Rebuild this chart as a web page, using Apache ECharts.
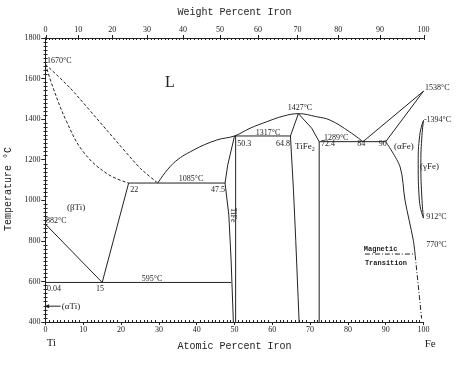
<!DOCTYPE html>
<html><head><meta charset="utf-8">
<script src="https://cdn.jsdelivr.net/npm/echarts@6/dist/echarts.min.js"></script>
<style>html,body{margin:0;padding:0;background:#fff}#c{width:474px;height:372px}</style>
</head><body><div id="c"></div>
<script>
// ---- axis ticks ----
const atTicks = [0,10,20,30,40,50,60,70,80,90,100];
const tempTicks = [400,600,800,1000,1200,1400,1600,1800];
const wtMajor = [0,10,20,30,40,50,60,70,80,90,100];

// ---- phase boundaries (x = atomic % Fe, y = temperature °C) ----
const liquidusTi   = [[0,1670],[6.6,1552],[16.2,1346],[25.0,1159],[29.7,1085]];
const solidusTi    = [[0,1670],[2.06,1552],[5.6,1387],[10.0,1239],[16.2,1132],[22,1085]];
const liquidusDome = [[29.7,1085],[33.8,1182],[39.1,1247],[45.3,1297],[50,1317],[54.1,1355],[58.5,1387],[62.9,1415],[66.9,1427],[71.7,1412],[75.3,1395],[80.4,1338],[84,1289]];
const liquidusFe   = [[84,1289],[100,1538]];
const solidusFe    = [[90,1289],[100,1538]];
const eutectic1085 = [[22,1085],[47.5,1085]];
const betaSolvus   = [[22,1085],[15,595]];
const betaTransus  = [[0,882],[15,595]];
const eutectoid595 = [[0,595],[49.1,595]];
const tifeLeft     = [[50,1317],[48.2,1173],[47.5,1085],[48.5,927],[49.1,705],[49.7,400]];
const tifeRight    = [[50.3,1317],[50.3,400]];
const peritectic1317 = [[50,1317],[64.8,1317]];
const tife2Left    = [[66.9,1427],[64.8,1317],[65.6,1050],[66.2,803],[67.1,400]];
const tife2Right   = [[66.9,1427],[70.4,1356],[72.4,1289],[72.4,400]];
const eutectic1289 = [[72.4,1289],[90,1289]];
const alphaFeSolvus = [[90,1289],[93.8,1165],[95.1,1001],[97.3,803],[97.8,729]];
const alphaFeSolvusLow = [[97.8,729],[99.5,417]];
const magneticLine = [[84.5,735],[97.8,735]];
const gammaOuter   = [[100,1394],[99.0,1320],[98.6,1183],[98.9,1001],[100,912]];
const gammaInner   = [[100,1394],[99.6,1320],[99.3,1183],[99.6,1001],[100,912]];
const alphaTiArrow = [[0.3,478],[4.0,478]];

// ---- text annotations (anchored in data coordinates) ----
const notes = [
  ['1670°C', 0.4, 1687, 'left', 'num'],
  ['L', 32.9, 1578, 'center', 'big'],
  ['1427°C', 67.3, 1455, 'center', 'num'],
  ['1317°C', 58.9, 1331, 'center', 'num'],
  ['1289°C', 76.9, 1307, 'center', 'num'],
  ['1085°C', 38.5, 1104, 'center', 'num'],
  ['595°C', 28.2, 614, 'center', 'num'],
  ['882°C', 0.13, 897, 'left', 'num'],
  ['0.04', 0.4, 562, 'left', 'num'],
  ['15', 14.4, 562, 'center', 'num'],
  ['22', 22.4, 1050, 'left', 'num'],
  ['47.5', 47.5, 1050, 'right', 'num'],
  ['50.3', 50.7, 1277, 'left', 'num'],
  ['64.8', 64.7, 1277, 'right', 'num'],
  ['72.4', 72.9, 1277, 'left', 'num'],
  ['84', 83.5, 1277, 'center', 'num'],
  ['90', 89.2, 1277, 'center', 'num'],
  ['{a|TiFe}{s|2}', 66.0, 1265, 'left', 'phase'],
  ['(αFe)', 92.2, 1262, 'left', 'phase'],
  ['(γFe)', 99.1, 1164, 'left', 'phase'],
  ['(βTi)', 5.7, 966, 'left', 'phase'],
  ['(αTi)', 4.3, 478, 'left', 'phase'],
  ['TiFe', 49.6, 927, 'center', 'rot'],
  ['Magnetic', 84.2, 759, 'left', 'small'],
  ['Transition', 84.5, 691, 'left', 'small'],
  ['1538°C', 100.4, 1553, 'left', 'num'],
  ['-1394°C', 100.1, 1395, 'left', 'num'],
  ['912°C', 100.7, 917, 'left', 'num'],
  ['770°C', 100.7, 779, 'left', 'num'],
  ['Ti', 0.3, 295, 'left', 'elem'],
  ['Fe', 100.3, 290, 'left', 'elem']
];

function wtToAt(w){ const fe = w/55.845, ti = (100-w)/47.867; return fe/(fe+ti)*100; }
const wtMinor = []; for (let w = 0; w <= 100; w++) wtMinor.push(w);

const INK = '#222';
const fonts = {
  num:   '8px "Liberation Serif"',
  big:   '16px "Liberation Serif"',
  phase: '9px "Liberation Serif"',
  rot:   '8px "Liberation Serif"',
  small: 'bold 7px "Liberation Mono"',
  elem:  '11px "Liberation Serif"'
};

function seg(data, opt) {
  opt = opt || {};
  return {
    type: 'line', data: data, showSymbol: false, symbol: 'none', silent: true,
    smooth: opt.smooth || false, clip: false, animation: false,
    lineStyle: { color: INK, width: 1, type: opt.dash || 'solid' }
  };
}

const series = [
  seg(liquidusTi, {dash: [3,2], smooth: 0.2}),
  seg(solidusTi, {dash: [3,2], smooth: 0.4}),
  seg(liquidusDome, {smooth: 0.4}),
  seg(liquidusFe), seg(solidusFe),
  seg(eutectic1085), seg(betaSolvus), seg(betaTransus), seg(eutectoid595),
  seg(tifeLeft), seg(tifeRight), seg(peritectic1317),
  seg(tife2Left), seg(tife2Right), seg(eutectic1289),
  seg(alphaFeSolvus, {smooth: 0.3}),
  seg(alphaFeSolvusLow, {dash: [5,2,1,2]}),
  seg(magneticLine, {dash: [5,2,1,2]}),
  seg(gammaOuter, {smooth: 0.5}), seg(gammaInner, {smooth: 0.5}),
  {
    type: 'line', data: alphaTiArrow, silent: true, clip: false, animation: false,
    showSymbol: true, showAllSymbol: true,
    symbol: function (v, p) { return p.dataIndex === 0 ? 'triangle' : 'none'; },
    symbolRotate: 90, symbolSize: [4, 5], symbolOffset: [0, 0],
    itemStyle: {color: INK}, lineStyle: {color: INK, width: 1}
  },
  {
    type: 'custom', data: [0], silent: true, clip: false, animation: false, z: 5,
    renderItem: function (params, api) {
      const ch = [];
      wtMinor.forEach(function (w) {
        const p = api.coord([wtToAt(w), 1800]);
        const x = Math.round(p[0]) + 0.5;
        ch.push({type: 'line', shape: {x1: x, y1: p[1], x2: x, y2: p[1] + 2}, style: {stroke: INK, lineWidth: 1}});
      });
      wtMajor.forEach(function (w) {
        const p = api.coord([wtToAt(w), 1800]);
        const x = Math.round(p[0]) + 0.5;
        ch.push({type: 'line', shape: {x1: x, y1: p[1] - 3, x2: x, y2: p[1]}, style: {stroke: INK, lineWidth: 1}});
        ch.push({type: 'text', x: p[0], y: p[1] - 8, style: {text: String(w), align: 'center', verticalAlign: 'middle', font: fonts.num, fill: INK}});
      });
      return {type: 'group', children: ch};
    }
  },
  {
    type: 'custom', data: notes.map(function (n, i) { return i; }), silent: true, clip: false, animation: false, z: 6,
    renderItem: function (params, api) {
      const n = notes[params.dataIndex];
      const p = api.coord([n[1], n[2]]);
      const st = {text: n[0], align: n[3], verticalAlign: 'middle', font: fonts[n[4]], fill: INK};
      if (n[0].indexOf('{a|') === 0) {
        st.rich = {a: {font: fonts.phase, fill: INK}, s: {font: '6px "Liberation Serif"', fill: INK, padding: [5, 0, 0, 0]}};
      }
      const el = {type: 'text', x: p[0], y: p[1], style: st};
      if (n[4] === 'rot') el.rotation = -Math.PI / 2;
      return el;
    }
  }
];

const axisLine = {show: true, lineStyle: {color: INK, width: 1}};
const plain = function (v) { return String(v); };
const chart = echarts.init(document.getElementById('c'), null, {renderer: 'canvas'});
chart.setOption({
  animation: false,
  backgroundColor: '#fff',
  grid: {left: 45.5, top: 38, width: 378, height: 284, containLabel: false, outerBoundsMode: 'none'},
  xAxis: [
    {type: 'value', position: 'bottom', min: atTicks[0], max: atTicks[atTicks.length-1], interval: 10,
     axisLine: axisLine, splitLine: {show: false},
     axisTick: {show: true, length: 3, lineStyle: {color: INK}},
     axisLabel: {fontSize: 8, fontFamily: 'Liberation Serif', color: INK, margin: 4, formatter: plain},
     name: 'Atomic Percent Iron', nameLocation: 'middle', nameGap: 19,
     nameTextStyle: {fontFamily: 'Liberation Mono', fontSize: 10, color: INK}},
    {type: 'value', position: 'bottom', min: 0, max: 100, interval: 10,
     axisLine: {show: false}, splitLine: {show: false}, axisLabel: {show: false},
     axisTick: {show: false, inside: true},
     minorTick: {show: true, splitNumber: 10, length: 2, lineStyle: {color: INK}}},
    {type: 'value', position: 'top', min: 0, max: 100,
     axisLine: axisLine, splitLine: {show: false}, axisLabel: {show: false}, axisTick: {show: false},
     name: 'Weight Percent Iron', nameLocation: 'middle', nameGap: 21,
     nameTextStyle: {fontFamily: 'Liberation Mono', fontSize: 10, color: INK}}
  ],
  yAxis: [
    {type: 'value', position: 'left', min: tempTicks[0], max: tempTicks[tempTicks.length-1], interval: 200,
     axisLine: axisLine, splitLine: {show: false},
     axisTick: {show: true, length: 4, lineStyle: {color: INK}},
     axisLabel: {fontSize: 8, fontFamily: 'Liberation Serif', color: INK, margin: 5, formatter: plain},
     name: 'Temperature °C', nameLocation: 'middle', nameGap: 31,
     nameTextStyle: {fontFamily: 'Liberation Mono', fontSize: 10, color: INK, padding: [0, 18, 0, 0]}},
    {type: 'value', position: 'left', min: 400, max: 1800, interval: 200,
     axisLine: {show: false}, splitLine: {show: false}, axisLabel: {show: false},
     axisTick: {show: false, inside: true},
     minorTick: {show: true, splitNumber: 10, length: 2, lineStyle: {color: INK}}},
    {type: 'value', position: 'right', min: 400, max: 1800, interval: 200,
     axisLine: axisLine, splitLine: {show: false}, axisLabel: {show: false},
     axisTick: {show: true, inside: true, length: 4, lineStyle: {color: INK}},
     minorTick: {show: true, splitNumber: 10, length: 2, lineStyle: {color: INK}}}
  ],
  series: series
});
</script></body></html>
